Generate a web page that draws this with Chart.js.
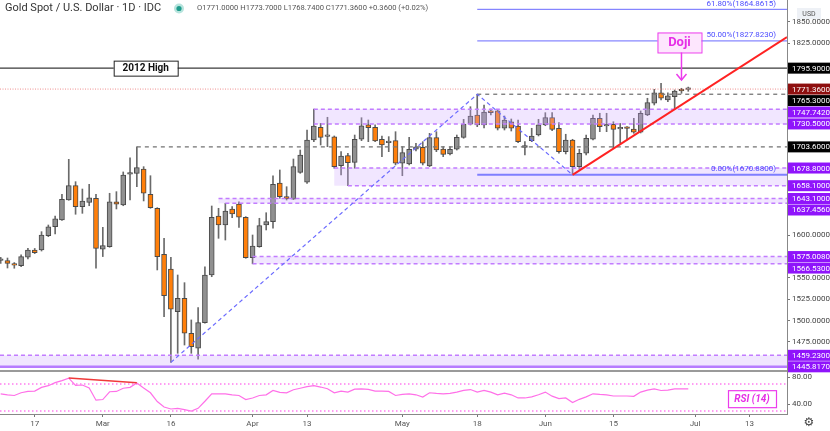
<!DOCTYPE html>
<html><head><meta charset="utf-8">
<script src="https://cdn.jsdelivr.net/npm/chart.js@4.4.1/dist/chart.umd.min.js"></script>
<style>html,body{margin:0;padding:0;background:#fff;overflow:hidden}#wrap{position:relative;width:830px;height:431px}</style>
</head><body><div id="wrap"><canvas id="c"></canvas></div>
<script>
// ---------- DATA ----------
const dates = ['Feb 10','Feb 11','Feb 12','Feb 13','Feb 14','Feb 17','Feb 18','Feb 19','Feb 20','Feb 21','Feb 24','Feb 25','Feb 26','Feb 27','Feb 28',
'Mar 2','Mar 3','Mar 4','Mar 5','Mar 6','Mar 9','Mar 10','Mar 11','Mar 12','Mar 13','Mar 16','Mar 17','Mar 18','Mar 19','Mar 20','Mar 23','Mar 24','Mar 25','Mar 26','Mar 27','Mar 30','Mar 31',
'Apr 1','Apr 2','Apr 3','Apr 6','Apr 7','Apr 8','Apr 9','Apr 10','Apr 13','Apr 14','Apr 15','Apr 16','Apr 17','Apr 20','Apr 21','Apr 22','Apr 23','Apr 24','Apr 27','Apr 28','Apr 29','Apr 30',
'May 1','May 4','May 5','May 6','May 7','May 8','May 11','May 12','May 13','May 14','May 15','May 18','May 19','May 20','May 21','May 22','May 25','May 26','May 27','May 28','May 29',
'Jun 1','Jun 2','Jun 3','Jun 4','Jun 5','Jun 8','Jun 9','Jun 10','Jun 11','Jun 12','Jun 15','Jun 16','Jun 17','Jun 18','Jun 19','Jun 22','Jun 23','Jun 24','Jun 25','Jun 26','Jun 29','Jun 30'];
const futureDates = ['Jul 1','Jul 2','Jul 3','Jul 6','Jul 7','Jul 8','Jul 9','Jul 10','Jul 13','Jul 14','Jul 15','Jul 16','Jul 17','Jul 20'];

const open  = [1570.6,1570.2,1565.6,1564.3,1574.2,1582.7,1582.7,1599.5,1610.0,1617.9,1641.3,1658.1,1633.5,1638.6,1643.3,
1583.7,1586.6,1639.3,1635.5,1671.5,1672.6,1677.7,1648.0,1631.6,1577.7,1560.4,1510.4,1526.1,1485.1,1467.5,1497.5,1553.4,1622.6,1612.0,1630.8,1636.6,1621.1,
1573.7,1586.6,1612.0,1615.9,1661.1,1645.2,1642.2,1673.8,1662.1,1711.7,1726.6,1715.8,1715.5,1681.5,1693.3,1685.5,1712.5,1729.3,1726.6,1712.5,1708.5,1710.9,
1684.4,1683.5,1700.8,1703.1,1681.2,1714.4,1701.1,1695.3,1700.8,1714.8,1730.1,1741.0,1729.3,1746.0,1746.0,1725.4,1733.1,1728.1,1703.1,1710.9,1717.5,
1729.3,1737.8,1725.4,1698.0,1711.7,1680.4,1696.1,1712.5,1737.1,1728.1,1730.1,1724.7,1725.6,1724.6,1720.7,1741.0,1754.7,1767.1,1758.6,1762.4,1769.5,1771.0];
const high  = [1574.0,1573.3,1568.0,1576.9,1584.7,1584.5,1604.2,1612.0,1622.6,1648.0,1689.0,1662.8,1654.2,1659.7,1648.0,
1609.3,1649.2,1651.1,1674.2,1690.9,1703.8,1680.4,1669.8,1632.3,1596.4,1574.2,1553.4,1544.4,1500.7,1515.1,1563.1,1634.3,1631.6,1637.5,1633.5,1639.3,1621.8,
1600.3,1619.9,1626.4,1669.8,1676.5,1656.9,1689.4,1699.9,1723.4,1748.0,1731.2,1738.3,1716.4,1698.0,1696.1,1717.5,1737.8,1735.1,1729.3,1716.4,1715.6,1721.4,
1703.8,1714.8,1707.8,1709.7,1719.5,1721.4,1703.8,1703.8,1717.5,1735.9,1750.7,1765.3,1752.7,1748.0,1747.6,1739.8,1736.3,1735.1,1709.7,1725.4,1735.9,
1743.7,1743.7,1732.0,1718.4,1712.5,1700.8,1717.5,1741.0,1743.0,1743.0,1733.1,1731.2,1727.3,1737.1,1745.7,1760.6,1771.1,1778.1,1767.1,1770.3,1772.3,1773.7];
const low   = [1567.0,1561.6,1561.3,1563.1,1572.2,1578.5,1581.5,1598.3,1601.5,1617.5,1641.0,1624.6,1625.7,1634.6,1561.3,
1575.0,1585.9,1630.8,1634.6,1641.3,1656.9,1640.2,1631.6,1559.3,1504.5,1451.0,1461.6,1471.3,1461.6,1454.6,1496.8,1551.4,1596.4,1594.4,1620.6,1609.3,1573.0,
1566.5,1585.9,1606.2,1608.2,1643.3,1641.3,1641.8,1672.6,1660.9,1709.7,1705.8,1703.8,1678.5,1670.6,1658.1,1678.5,1710.9,1709.7,1709.7,1692.1,1698.0,1682.4,
1669.8,1682.4,1698.8,1682.4,1680.4,1698.0,1692.1,1694.1,1699.9,1713.7,1729.3,1727.3,1725.7,1741.0,1723.4,1723.4,1722.2,1708.5,1694.1,1709.7,1716.4,
1728.4,1722.6,1696.1,1695.3,1670.9,1677.3,1694.1,1711.7,1721.4,1721.4,1702.0,1707.8,1711.7,1719.5,1719.9,1740.2,1752.7,1758.6,1756.6,1747.7,1766.4,1768.74];
const close = [1571.2,1567.1,1565.0,1574.9,1582.7,1579.5,1600.3,1610.0,1619.1,1642.2,1658.1,1633.5,1640.2,1644.0,1584.7,
1587.8,1639.3,1636.3,1670.6,1672.4,1679.2,1649.2,1632.3,1575.0,1529.1,1513.2,1526.1,1485.1,1469.4,1497.5,1553.4,1621.1,1612.0,1628.4,1624.9,1621.1,1573.7,
1587.4,1611.2,1615.9,1659.7,1645.2,1642.5,1680.4,1694.1,1711.7,1728.1,1714.8,1716.4,1680.4,1692.9,1685.1,1712.5,1728.4,1726.1,1710.5,1705.8,1709.0,1684.4,
1696.8,1700.8,1703.8,1684.4,1714.4,1699.9,1694.9,1700.8,1714.8,1730.4,1739.8,1729.3,1744.5,1743.7,1725.4,1735.1,1725.4,1709.7,1703.6,1716.4,1729.3,
1737.8,1724.2,1698.0,1711.7,1680.4,1696.1,1713.7,1737.1,1727.3,1728.6,1724.2,1725.2,1725.1,1720.7,1743.0,1755.4,1767.1,1760.6,1763.3,1769.1,1769.3,1771.36];
const rsi14 = [55.5,54,53,57,59,59.5,65,67.5,72,75,78.7,68,68.5,64,46,
47,58.5,59,63.7,65,71.4,64,57,44,36,33,34,32,30,34,44.5,55.5,55.5,55.5,54,53,47,
49.3,53,54,60.4,57.5,57,61.5,63.7,66,67.6,65.5,63,57,59.4,58,62.3,62.8,62,59.4,59.4,59,53,
54.6,55.5,54,50.7,57,56,55.5,56,58,60.5,61.8,58,60.4,58,54,56.5,54,49.3,49.3,51,54,
58,52,48.3,49.3,42.5,47.3,51,55.5,54.5,54,52.2,52.2,52.2,51.7,58,61,62.8,60.4,61,62.8,62.8,62.8];

const xTickDates  = ['Feb 17','Mar 2','Mar 16','Apr 1','Apr 13','May 1','May 18','Jun 1','Jun 15','Jul 1','Jul 13'];
const xTickLabels = ['17','Mar','16','Apr','13','May','18','Jun','15','Jul','13'];
const priceTicks = [1475,1500,1525,1550,1600,1825,1850];
const rsiTicks = [40,80];

const zones = [
  {top:1747.742, bottom:1730.5, from:'Apr 14', bottomFrom:'Apr 14'},
  {top:1678.8, bottom:1658.1, from:'Apr 17', bottomFrom:'Apr 21'},
  {top:1643.1, bottom:1637.456, from:'Mar 25', bottomFrom:'Mar 26'},
  {top:1575.008, bottom:1566.53, from:'Apr 1', bottomFrom:'Apr 1'},
  {top:1459.23, bottom:1445.817, from:null, bottomFrom:null, solidBottom:true}
];
const fibLevels = [{pct:'61.80%', price:1864.8615},{pct:'50.00%', price:1827.823},{pct:'0.00%', price:1670.88}];
const fibFrom = 'May 18';
const swingPath = [['Mar 16',1451.0],['May 18',1765.3],['Jun 5',1670.88]];
const greyLevels = [{price:1765.3, from:'May 18'},{price:1703.6, from:'Mar 9'}];
const high2012 = 1795.9;
const lastPrice = 1771.36;
const trendPts = [['Jun 5',1670.88],['Jun 26',1747.7]];
const rsiDiv = [['Feb 24',79],['Mar 9',72]];
const axisBoxes = [
  {price:1795.9,k:'b'},{price:1771.36,k:'r'},{price:1765.3,k:'b'},{price:1747.742,k:'p'},{price:1730.5,k:'p'},
  {price:1703.6,k:'b'},{price:1678.8,k:'p'},{price:1658.1,k:'p'},{price:1643.1,k:'p'},{price:1637.456,k:'p'},
  {price:1575.008,k:'p'},{price:1566.53,k:'p'},{price:1459.23,k:'p'},{price:1445.817,k:'p'}
];

// ---------- BUILD ----------
const allDates = dates.concat(futureDates);
const ix = d => allDates.indexOf(d);
const xTickIdx = xTickDates.map(ix);
const FONT = 'Roboto, "Liberation Sans", sans-serif';

const wickData = dates.map((d,i)=>({x:i, y:[low[i], high[i]]}));
const bodyData = dates.map((d,i)=>({x:i, y:[open[i], close[i]]}));
const rsiData  = dates.map((d,i)=>({x:i, y:rsi14[i]}));

const noPad = s => { s.paddingTop = 0; s.paddingBottom = 0; s.paddingLeft = 0; s.paddingRight = 0; };

const overlay = {
  id:'overlay',
  afterDatasetsDraw(chart){
    const {ctx, chartArea:a, scales} = chart;
    const x = scales.x, y = scales.y, r = scales.yRsi;
    const px = v => x.getPixelForValue(v);
    const py = v => y.getPixelForValue(v);
    const pr = v => r.getPixelForValue(v);
    const R = a.right, L = a.left;
    ctx.save();
    ctx.beginPath(); ctx.rect(a.left, a.top, a.right-a.left, a.bottom-a.top); ctx.clip();

    // zones
    zones.forEach(z=>{
      const x0 = z.from ? px(ix(z.from)) : L;
      const xb = z.bottomFrom ? px(ix(z.bottomFrom)) : L;
      const yt = py(z.top), yb = py(z.bottom);
      ctx.fillStyle = 'rgba(205,165,255,0.28)';
      ctx.fillRect(x0, yt, R-x0, yb-yt);
      ctx.strokeStyle = '#c27cff'; ctx.lineWidth = 1.5; ctx.setLineDash([4,3]);
      ctx.beginPath(); ctx.moveTo(x0, yt); ctx.lineTo(R, yt); ctx.stroke();
      if (z.solidBottom){ ctx.setLineDash([]); ctx.lineWidth = 2.5; ctx.strokeStyle='#b77cff'; }
      ctx.beginPath(); ctx.moveTo(xb, yb); ctx.lineTo(R, yb); ctx.stroke();
      ctx.setLineDash([]);
    });

    // 2012 high line
    ctx.strokeStyle = '#3a3a3a'; ctx.lineWidth = 1.3;
    ctx.beginPath(); ctx.moveTo(L, py(high2012)); ctx.lineTo(R, py(high2012)); ctx.stroke();

    // last price dotted
    ctx.strokeStyle = '#ef8f8f'; ctx.lineWidth = 1; ctx.setLineDash([1,1.5]);
    ctx.beginPath(); ctx.moveTo(L, py(lastPrice)); ctx.lineTo(R, py(lastPrice)); ctx.stroke();

    // grey dashed levels
    ctx.strokeStyle = '#777'; ctx.lineWidth = 1.3; ctx.setLineDash([4,4]);
    greyLevels.forEach(g=>{ ctx.beginPath(); ctx.moveTo(px(ix(g.from)), py(g.price)); ctx.lineTo(R, py(g.price)); ctx.stroke(); });
    ctx.setLineDash([]);

    // fib lines
    const fx = px(ix(fibFrom));
    fibLevels.forEach((f,k)=>{
      ctx.strokeStyle = k===2 ? '#7f7fff' : '#6a6aff'; ctx.lineWidth = k===2 ? 2 : 1;
      ctx.beginPath(); ctx.moveTo(fx, py(f.price)); ctx.lineTo(R, py(f.price)); ctx.stroke();
      ctx.fillStyle = '#4d4dff'; ctx.font = '8px '+FONT; ctx.textAlign='right'; ctx.textBaseline='bottom';
      ctx.fillText(f.pct+'('+f.price.toFixed(4)+')', R-11, py(f.price)-1.5);
    });

    // swing dashed path
    ctx.strokeStyle = '#6b6bff'; ctx.lineWidth = 1.2; ctx.setLineDash([4,3]);
    ctx.beginPath();
    swingPath.forEach((p,k)=>{ const X=px(ix(p[0])), Y=py(p[1]); k?ctx.lineTo(X,Y):ctx.moveTo(X,Y); });
    ctx.stroke(); ctx.setLineDash([]);

    // trendline
    const t0 = trendPts[0], t1 = trendPts[1];
    const i0 = ix(t0[0]), i1 = ix(t1[0]);
    const slope = (t1[1]-t0[1])/(i1-i0);
    const iEnd = x.max;
    ctx.strokeStyle = '#f22'; ctx.lineWidth = 2;
    ctx.beginPath(); ctx.moveTo(px(i0), py(t0[1])); ctx.lineTo(px(iEnd), py(t0[1]+slope*(iEnd-i0))); ctx.stroke();

    // RSI guides
    ctx.strokeStyle = '#ff7cf0'; ctx.lineWidth = 1.5; ctx.setLineDash([1.5,2.5]);
    [70,30].forEach(v=>{ ctx.beginPath(); ctx.moveTo(L, pr(v)); ctx.lineTo(R, pr(v)); ctx.stroke(); });
    ctx.setLineDash([]);
    ctx.strokeStyle = '#f03a3a'; ctx.lineWidth = 1.5;
    ctx.beginPath(); ctx.moveTo(px(ix(rsiDiv[0][0])), pr(rsiDiv[0][1])); ctx.lineTo(px(ix(rsiDiv[1][0])), pr(rsiDiv[1][1])); ctx.stroke();

    // panel separator
    ctx.strokeStyle = '#9a9a9a'; ctx.lineWidth = 2;
    ctx.beginPath(); ctx.moveTo(L, r.top); ctx.lineTo(R, r.top); ctx.stroke();

    // 2012 High box
    const hx = px(21.3), hy = py(high2012);
    ctx.fillStyle = '#fff'; ctx.fillRect(hx-32, hy-7.5, 64, 15);
    ctx.strokeStyle = '#222'; ctx.lineWidth = 1; ctx.strokeRect(hx-32+0.5, hy-7.5+0.5, 64, 15);
    ctx.fillStyle = '#111'; ctx.font = 'bold 10px '+FONT; ctx.textAlign='center'; ctx.textBaseline='middle';
    ctx.fillText('2012 High', hx, hy+0.5);

    // Doji callout
    const dIdx = ix('Jun 29');
    const dx = px(dIdx)-2, dyc = py(1826);
    ctx.fillStyle = '#fde6fd'; ctx.fillRect(dx-22, dyc-10, 44, 20);
    ctx.strokeStyle = '#ec3cec'; ctx.lineWidth = 1; ctx.strokeRect(dx-22+0.5, dyc-10+0.5, 44, 20);
    ctx.fillStyle = '#e62ee6'; ctx.font = 'bold 13px '+FONT; ctx.fillText('Doji', dx, dyc+0.5);
    const ax = px(dIdx), ay0 = dyc+10, ay1 = py(1782);
    ctx.strokeStyle = '#ec3cec'; ctx.lineWidth = 1.5;
    ctx.beginPath(); ctx.moveTo(ax, ay0); ctx.lineTo(ax, ay1); ctx.stroke();
    ctx.beginPath(); ctx.moveTo(ax-5, ay1-6); ctx.lineTo(ax, ay1); ctx.lineTo(ax+5, ay1-6); ctx.stroke();

    // RSI label box
    const rx = R-35, ry = pr(49);
    ctx.fillStyle = '#fff'; ctx.fillRect(rx-24, ry-8, 48, 17);
    ctx.strokeStyle = '#ec3cec'; ctx.lineWidth = 1.2; ctx.strokeRect(rx-24+0.5, ry-8+0.5, 48, 17);
    ctx.fillStyle = '#e62ee6'; ctx.font = 'italic bold 10px '+FONT; ctx.fillText('RSI (14)', rx, ry+1);
    ctx.restore();
  },
  afterDraw(chart){
    const {ctx, chartArea:a, scales:{y}} = chart;
    ctx.save();
    // axis price boxes with collision avoidance
    const items = axisBoxes.map(b=>({...b, yy:y.getPixelForValue(b.price)})).sort((p,q)=>p.yy-q.yy);
    let prev = -100;
    items.forEach(it=>{ if (it.yy < prev+11.5) it.yy = prev+11.5; prev = it.yy; });
    const col = {b:'#000', r:'#8e0f0f', p:'#8f14fb'};
    items.forEach(it=>{
      ctx.fillStyle = col[it.k];
      ctx.fillRect(a.right+1, it.yy-5.5, 830-a.right-1, 11);
      ctx.fillStyle = '#fff'; ctx.font = '8px '+FONT; ctx.textAlign='left'; ctx.textBaseline='middle';
      ctx.fillText(it.price.toFixed(4), a.right+5, it.yy+0.5);
    });
    // USD tag
    ctx.fillStyle = '#eef1f6'; ctx.fillRect(a.right+10, 8, 24, 11);
    ctx.fillStyle = '#555'; ctx.font = '7px '+FONT; ctx.textAlign='center';
    ctx.fillText('USD', a.right+22, 14);
    // header
    ctx.textAlign='left'; ctx.textBaseline='middle';
    ctx.fillStyle = '#333'; ctx.font = '11px '+FONT;
    ctx.fillText('Gold Spot / U.S. Dollar \u00b7 1D \u00b7 IDC', 5, 8.5);
    ctx.fillStyle = '#b7e4dd'; ctx.beginPath(); ctx.arc(179, 8.5, 5, 0, Math.PI*2); ctx.fill();
    ctx.fillStyle = '#1f9c8c'; ctx.beginPath(); ctx.arc(179, 8.5, 2.6, 0, Math.PI*2); ctx.fill();
    ctx.fillStyle = '#555'; ctx.font = '7.6px '+FONT;
    const o=open[open.length-1], h=high[high.length-1], l=low[low.length-1], c=close[close.length-1];
    const ch = c-o;
    ctx.fillText('O'+o.toFixed(4)+' H'+h.toFixed(4)+' L'+l.toFixed(4)+' C'+c.toFixed(4)+' +'+ch.toFixed(4)+' (+'+(ch/o*100).toFixed(2)+'%)', 197, 8.5);
    // gear
    ctx.fillStyle = '#444'; ctx.font = '12px "DejaVu Sans"'; ctx.textAlign='center';
    ctx.fillText('\u2699', a.right+22, 423);
    ctx.restore();
  }
};

new Chart(document.getElementById('c'), {
  type:'bar',
  data:{ datasets:[
    {type:'bar', label:'body', data:bodyData, xAxisID:'x', yAxisID:'y', grouped:false, order:1,
     barThickness:5, minBarLength:1.6, borderWidth:1, borderSkipped:false,
     backgroundColor: ctx => { const i = ctx.dataIndex; return close[i] >= open[i] ? '#909090' : '#ff7f0a'; },
     borderColor:'#4a4a4a'},
    {type:'bar', label:'wick', data:wickData, xAxisID:'x', yAxisID:'y', grouped:false, order:2,
     barThickness:1, borderWidth:0, backgroundColor:'#6a6a6a'},
    {type:'line', label:'rsi', data:rsiData, xAxisID:'x', yAxisID:'yRsi', order:0,
     borderColor:'#ff70e8', borderWidth:1.2, pointRadius:0, tension:0, fill:false}
  ]},
  options:{
    responsive:true, maintainAspectRatio:false, animation:false, events:[],
    layout:{padding:0},
    plugins:{legend:{display:false}, tooltip:{enabled:false}, title:{display:false}},
    scales:{
      x:{type:'linear', position:'bottom', min:-0.1, max:115.5, offset:false,
         grid:{display:true, drawOnChartArea:false, drawTicks:true, tickLength:3, color:'#777', offset:false},
         border:{display:true, color:'#888', width:1},
         afterBuildTicks: s => { s.ticks = xTickIdx.map(v=>({value:v})); },
         afterFit: s => { s.height = 17; noPad(s); },
         ticks:{autoSkip:false, maxRotation:0, padding:2, color:'#555', font:{size:8, family:FONT},
                callback: v => { const k = xTickIdx.indexOf(v); return k>=0 ? xTickLabels[k] : ''; }}},
      y:{type:'linear', position:'right', axis:'y', stack:'v', stackWeight:371, min:1440.85, max:1875.79,
         grid:{display:true, drawOnChartArea:false, drawTicks:true, tickLength:3, color:'#777'},
         border:{display:true, color:'#888', width:1},
         afterBuildTicks: s => { s.ticks = priceTicks.map(v=>({value:v})); },
         afterFit: s => { s.width = 43; noPad(s); },
         ticks:{autoSkip:false, padding:2, color:'#444', font:{size:8, family:FONT}, callback: v => Number(v).toFixed(4)}},
      yRsi:{type:'linear', position:'right', axis:'y', stack:'v', stackWeight:43, min:25.56, max:89.26,
         grid:{display:true, drawOnChartArea:false, drawTicks:true, tickLength:3, color:'#777'},
         border:{display:true, color:'#888', width:1},
         afterBuildTicks: s => { s.ticks = rsiTicks.map(v=>({value:v})); },
         afterFit: s => { s.width = 43; noPad(s); },
         ticks:{autoSkip:false, padding:2, color:'#444', font:{size:8, family:FONT}, callback: v => Number(v).toFixed(2)}}
    }
  },
  plugins:[overlay]
});
</script></body></html>
